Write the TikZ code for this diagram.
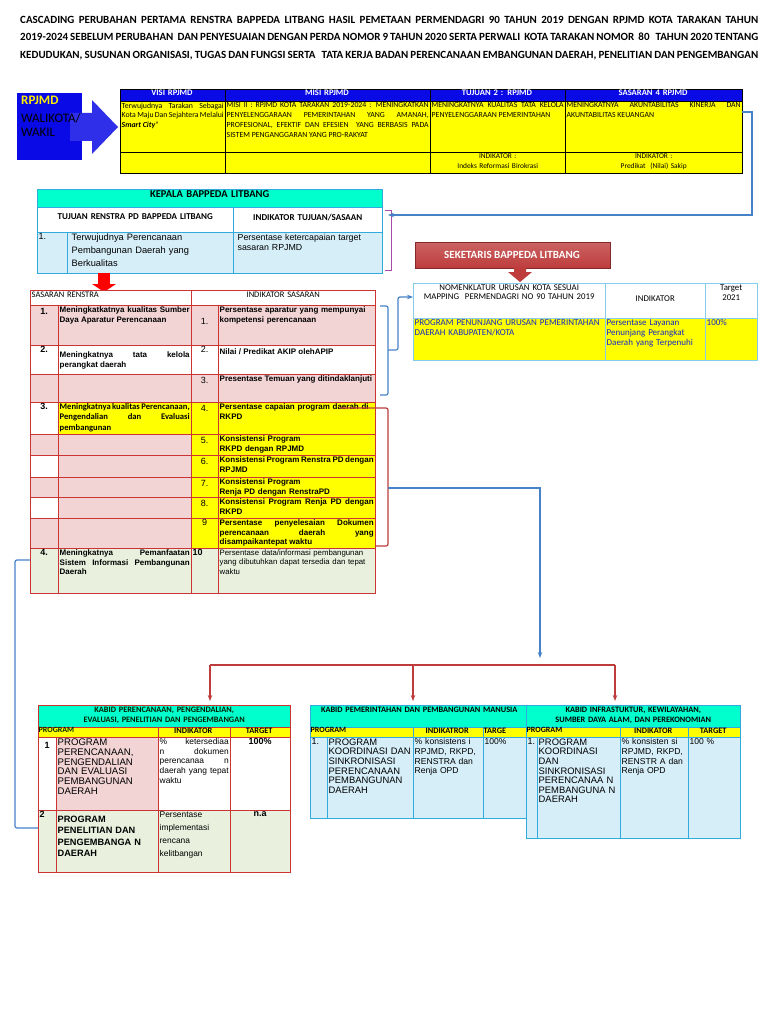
\documentclass[tikz,border=0pt]{standalone}
\usepackage{fontspec}
\setmainfont{Carlito}
\newfontfamily\arial{Liberation Sans}
\usetikzlibrary{arrows.meta,shapes.arrows}
\hyphenpenalty=10000 \exhyphenpenalty=10000 \tolerance=9999 \emergencystretch=20pt
\AtBeginDocument{\hyphenpenalty=10000 \exhyphenpenalty=10000 \tolerance=9999 \emergencystretch=20pt}
\definecolor{hdrblue}{RGB}{10,10,230}
\definecolor{yel}{RGB}{255,255,0}
\definecolor{pink}{RGB}{242,212,212}
\definecolor{grn}{RGB}{233,241,222}
\definecolor{lblue}{RGB}{214,238,248}
\definecolor{cyanh}{RGB}{0,255,204}
\definecolor{redb}{RGB}{204,51,51}
\definecolor{blueb}{RGB}{51,170,221}
\definecolor{conn}{RGB}{70,130,200}
\definecolor{redc}{RGB}{190,60,60}
\definecolor{progblue}{RGB}{20,40,200}
\newcommand\nohy{\hyphenpenalty=10000\exhyphenpenalty=10000\tolerance=9999\emergencystretch=20pt\lefthyphenmin=60\righthyphenmin=60 }
\newcommand\cell[8]{%
 \path[#6] (#2,#3) rectangle (#4,#5);
 \pgfmathsetmacro\cw{#4-#2-3}%
 \node[name=#1, anchor=north west, inner sep=1.5pt, text width=\cw pt, #7] at (#2,#3) {\nohy #8};}
\tikzset{
 every node/.append style={execute at begin node=\nohy},
 tb/.style={fill=#1,draw=black,line width=0.6pt},
 rb/.style={fill=#1,draw=redb,line width=0.6pt},
 bb/.style={fill=#1,draw=blueb,line width=0.7pt},
 hw/.style={font=\bfseries\fontsize{8.6}{9}\selectfont,color=white,align=center,inner sep=0.8pt},
 hb/.style={font=\bfseries\fontsize{9}{10}\selectfont,align=center},
 sm/.style={font=\fontsize{7.8}{9.8}\selectfont,align=justify},
 ar/.style={font=\arial\bfseries\fontsize{8}{9.6}\selectfont,align=justify},
 arn/.style={font=\arial\bfseries\fontsize{9}{10}\selectfont,align=center},
 kb/.style={font=\arial\fontsize{9}{11}\selectfont,align=left},
 kbs/.style={font=\arial\fontsize{8.5}{9.5}\selectfont,align=left},
 bconn/.style={draw=conn,line width=1.2pt,-{Stealth[length=6pt]}},
 rconn/.style={draw=redc,line width=1.2pt,-{Stealth[length=6pt]}},
}
\begin{document}
\begin{tikzpicture}[x=1pt,y=-1pt]
\useasboundingbox[fill=white] (0,0) rectangle (768,1024);
% title
\node[name=title,anchor=north west,text width=738pt,align=justify,inner sep=0pt,
 font=\bfseries\fontsize{11}{17.5}\selectfont] at (20,16)
 {CASCADING PERUBAHAN PERTAMA RENSTRA BAPPEDA LITBANG HASIL PEMETAAN PERMENDAGRI 90 TAHUN 2019 DENGAN RPJMD KOTA TARAKAN TAHUN 2019-2024 SEBELUM PERUBAHAN \ DAN PENYESUAIAN DENGAN PERDA NOMOR 9 TAHUN 2020 SERTA PERWALI \ KOTA TARAKAN NOMOR \ 80 \ \ TAHUN 2020 TENTANG KEDUDUKAN, SUSUNAN ORGANISASI, TUGAS DAN FUNGSI SERTA \ \ TATA KERJA BADAN PERENCANAAN EMBANGUNAN DAERAH, PENELITIAN DAN PENGEMBANGAN};
% RPJMD block arrow
\fill[hdrblue] (17,93) rectangle (82,160);
\fill[hdrblue!85] (70,113) -- (92,113) -- (92,100) -- (118,127) -- (92,154) -- (92,141) -- (70,141) -- cycle;
\node[name=rpjmd,anchor=north west,inner sep=0pt,font=\bfseries\fontsize{13}{15}\selectfont,text=yellow] at (21,96) {RPJMD};
\node[name=wali,anchor=north west,inner sep=0pt,font=\fontsize{13}{14}\selectfont,align=left] at (21,113) {WALIKOTA/\\WAKIL};
% top table
\cell{h1}{120}{89}{225}{101}{tb=hdrblue}{hw}{VISI RPJMD}
\cell{h2}{225}{89}{430}{101}{tb=hdrblue}{hw}{MISI RPJMD}
\cell{h3}{430}{89}{565}{101}{tb=hdrblue}{hw}{TUJUAN 2 : RPJMD}
\cell{h4}{565}{89}{742}{101}{tb=hdrblue}{hw}{SASARAN 4 RPJMD}
\cell{v1}{120}{101}{225}{152}{tb=yel}{sm}{Terwujudnya Tarakan Sebagai Kota Maju Dan Sejahtera Melalui \textbf{\textit{Smart City}}"}
\cell{v2}{225}{101}{430}{152}{tb=yel}{sm}{MISI II : RPJMD KOTA TARAKAN 2019-2024 : MENINGKATKAN PENYELENGGARAAN PEMERINTAHAN YANG AMANAH, PROFESIONAL, EFEKTIF DAN EFESIEN \ YANG BERBASIS PADA SISTEM PENGANGGARAN YANG PRO-RAKYAT}
\cell{v3}{430}{101}{565}{152}{tb=yel}{sm}{MENINGKATNYA KUALITAS TATA KELOLA PENYELENGGARAAN PEMERINTAHAN}
\cell{v4}{565}{101}{742}{152}{tb=yel}{sm}{MENINGKATNYA AKUNTABILITAS KINERJA DAN AKUNTABILITAS KEUANGAN}
\cell{i1}{120}{152}{225}{173}{tb=yel}{sm}{}
\cell{i2}{225}{152}{430}{173}{tb=yel}{sm}{}
\cell{i3}{430}{152}{565}{173}{tb=yel}{sm,align=center,font=\fontsize{7.4}{10}\selectfont}{INDIKATOR :\\ Indeks Reformasi Birokrasi}
\cell{i4}{565}{152}{742}{173}{tb=yel}{sm,align=center,font=\fontsize{7.4}{10}\selectfont}{INDIKATOR :\\ Predikat \ (Nilai) Sakip}
% KEPALA table
\cell{kh}{37}{189}{382}{207}{bb=cyanh}{hb,font=\bfseries\fontsize{10.5}{12}\selectfont}{KEPALA BAPPEDA LITBANG}
\cell{k1}{37}{207}{233}{232}{bb=white}{hb,yshift=-5pt}{TUJUAN RENSTRA PD BAPPEDA LITBANG}
\cell{k2}{233}{207}{382}{232}{bb=white}{hb,yshift=-5pt}{INDIKATOR TUJUAN/SASAAN}
\cell{k3}{37}{232}{67}{273}{bb=lblue}{kb}{1.}
\cell{k4}{67}{232}{233}{273}{bb=lblue}{kb,font=\arial\fontsize{9.3}{13}\selectfont,xshift=3pt}{Terwujudnya Perencanaan Pembangunan Daerah yang Berkualitas}
\cell{k5}{233}{232}{382}{273}{bb=lblue}{kb,font=\arial\fontsize{8.8}{10}\selectfont,xshift=3pt}{Persentase ketercapaian target sasaran RPJMD}
\draw[violet!70,line width=0.8pt] (385,210) -- (391,210) -- (391,270) -- (385,270);
\draw[bconn] (742,112) -- (752,112) -- (752,215) -- (388,215);
% SEKETARIS
\shade[top color=redc!80,bottom color=redc,draw=redc!70!black] (415,242) rectangle (610,268);
\node[name=sek,font=\bfseries\fontsize{11}{12}\selectfont,text=white] at (512,255) {SEKETARIS BAPPEDA LITBANG};
\fill[redc] (514,268) -- (526,268) -- (526,272) -- (532,272) -- (520,282) -- (508,272) -- (514,272) -- cycle;
% red arrow kepala -> sasaran
\fill[red] (98,273) rectangle (110,284);
\fill[red] (92,284) -- (116,284) -- (104,292) -- cycle;
% SASARAN table
\cell{sh1}{30}{290}{191}{305}{rb=white}{font=\fontsize{8.5}{9}\selectfont,align=left}{SASARAN RENSTRA}
\cell{sh2}{191}{290}{375}{305}{rb=white}{font=\fontsize{8.5}{9}\selectfont,align=center}{INDIKATOR SASARAN}
\def\rowA{305}\def\rowB{345}\def\rowC{374}\def\rowD{402}\def\rowE{434}\def\rowF{455}\def\rowG{477}\def\rowH{497}\def\rowI{518}\def\rowJ{548}\def\rowK{593}
\cell{n1}{30}{\rowA}{58}{\rowB}{rb=pink}{arn,yshift=-2pt}{1.}
\cell{n2}{30}{\rowB}{58}{\rowC}{rb=white}{arn}{2.}
\cell{n3}{30}{\rowC}{58}{\rowD}{rb=pink}{arn}{}
\cell{n4}{30}{\rowD}{58}{\rowE}{rb=white}{arn}{3.}
\cell{n5}{30}{\rowE}{58}{\rowF}{rb=pink}{arn}{}
\cell{n6}{30}{\rowF}{58}{\rowG}{rb=white}{arn}{}
\cell{n7}{30}{\rowG}{58}{\rowH}{rb=pink}{arn}{}
\cell{n8}{30}{\rowH}{58}{\rowI}{rb=white}{arn}{}
\cell{n9}{30}{\rowI}{58}{\rowJ}{rb=pink}{arn}{}
\cell{n10}{30}{\rowJ}{58}{\rowK}{rb=grn}{arn}{4.}
\cell{s1}{58}{\rowA}{191}{\rowB}{rb=pink}{ar}{Meningkatkatnya kualitas Sumber Daya Aparatur Perencanaan}
\cell{s2}{58}{\rowB}{191}{\rowC}{rb=white}{ar,yshift=-5pt}{Meningkatnya tata kelola perangkat daerah}
\cell{s3}{58}{\rowC}{191}{\rowD}{rb=pink}{ar}{}
\cell{s4}{58}{\rowD}{191}{\rowE}{rb=yel}{font=\bfseries\fontsize{8.6}{10.2}\selectfont,align=justify}{Meningkatnya kualitas Perencanaan, Pengendalian dan Evaluasi pembangunan}
\cell{s5}{58}{\rowE}{191}{\rowJ}{rb=pink}{ar}{}
\draw[redb,line width=0.6pt] (58,\rowF) -- (191,\rowF) (58,\rowG) -- (191,\rowG) (58,\rowH) -- (191,\rowH) (58,\rowI) -- (191,\rowI);
\cell{s10}{58}{\rowJ}{191}{\rowK}{rb=grn}{ar}{Meningkatnya Pemanfaatan Sistem Informasi Pembangunan Daerah}
\cell{m1}{191}{\rowA}{218}{\rowB}{rb=pink}{kb,align=center,yshift=-12pt}{1.}
\cell{m2}{191}{\rowB}{218}{\rowC}{rb=white}{kb,align=center}{2.}
\cell{m3}{191}{\rowC}{218}{\rowD}{rb=pink}{kb,align=center,yshift=-2pt}{3.}
\cell{m4}{191}{\rowD}{218}{\rowE}{rb=yel}{kb,align=center,yshift=-2pt}{4.}
\cell{m5}{191}{\rowE}{218}{\rowF}{rb=yel}{kb,align=center,yshift=-2pt}{5.}
\cell{m6}{191}{\rowF}{218}{\rowG}{rb=yel}{kb,align=center,yshift=-2pt}{6.}
\cell{m7}{191}{\rowG}{218}{\rowH}{rb=yel}{kb,align=center,yshift=-2pt}{7.}
\cell{m8}{191}{\rowH}{218}{\rowI}{rb=yel}{kb,align=center,yshift=-2pt}{8.}
\cell{m9}{191}{\rowI}{218}{\rowJ}{rb=yel}{kb,align=center}{9}
\cell{m10}{191}{\rowJ}{218}{\rowK}{rb=grn}{arn,align=left}{10}
\cell{t1}{218}{\rowA}{375}{\rowB}{rb=pink}{ar,align=left}{Persentase aparatur yang mempunyai kompetensi perencanaan}
\cell{t2}{218}{\rowB}{375}{\rowC}{rb=white}{ar,yshift=-2pt}{Nilai / Predikat AKIP olehAPIP}
\cell{t3}{218}{\rowC}{375}{\rowD}{rb=pink}{ar}{Presentase Temuan yang ditindaklanjuti}
\cell{t4}{218}{\rowD}{375}{\rowE}{rb=yel}{ar,align=left}{Persentase capaian program daerah di RKPD}
\cell{t5}{218}{\rowE}{375}{\rowF}{rb=yel}{ar,align=left}{Konsistensi Program\\RKPD dengan RPJMD}
\cell{t6}{218}{\rowF}{375}{\rowG}{rb=yel}{ar}{Konsistensi Program Renstra PD dengan RPJMD}
\cell{t7}{218}{\rowG}{375}{\rowH}{rb=yel}{ar,align=left}{Konsistensi Program\\Renja PD dengan RenstraPD}
\cell{t8}{218}{\rowH}{375}{\rowI}{rb=yel}{ar}{Konsistensi Program Renja PD dengan RKPD}
\cell{t9}{218}{\rowI}{375}{\rowJ}{rb=yel}{ar}{Persentase penyelesaian Dokumen perencanaan daerah yang disampaikantepat waktu}
\cell{t10}{218}{\rowJ}{375}{\rowK}{rb=grn}{ar,align=left,font=\arial\fontsize{7.8}{9.6}\selectfont}{Persentase data/informasi pembangunan yang dibutuhkan dapat tersedia dan tepat waktu}
% brackets
\draw[conn,line width=1.2pt,rounded corners=2pt] (380,306) -- (388,306) -- (388,395) -- (380,395);
\draw[redc,line width=1.2pt,rounded corners=2pt] (340,408) -- (388,408) -- (388,546) -- (375,546);
% NOMENKLATUR table
\cell{nh1}{413}{283}{605}{318}{draw=blueb!60,fill=white}{font=\fontsize{8.8}{9.5}\selectfont,align=center}{NOMENKLATUR URUSAN KOTA SESUAI MAPPING \ PERMENDAGRI NO 90 TAHUN 2019}
\cell{nh2}{605}{283}{705}{318}{draw=blueb!60,fill=white}{font=\fontsize{8.8}{9.5}\selectfont,align=center,yshift=-11pt}{INDIKATOR}
\cell{nh3}{705}{283}{757}{318}{draw=blueb!60,fill=white}{font=\fontsize{8.8}{10}\selectfont,align=center}{Target\\2021}
\cell{nr1}{413}{318}{605}{360}{draw=blueb!60,fill=yel}{font=\fontsize{9}{10}\selectfont,align=left,text=progblue}{PROGRAM PENUNJANG URUSAN PEMERINTAHAN DAERAH KABUPATEN/KOTA}
\cell{nr2}{605}{318}{705}{360}{draw=blueb!60,fill=yel}{font=\fontsize{9}{10}\selectfont,align=left,text=progblue}{Persentase Layanan Penunjang Perangkat Daerah yang Terpenuhi}
\cell{nr3}{705}{318}{757}{360}{draw=blueb!60,fill=yel}{font=\fontsize{9}{10}\selectfont,align=left,text=progblue}{100\%}
% connectors
\draw[bconn,rounded corners=2pt] (388,350) -- (398,350) -- (398,297) -- (nh1.west |- 0,297);
\draw[bconn] (388,488) -- (540,488) -- (540,658);
\draw[redc,line width=1.2pt] (210,665) -- (615,665);
\draw[rconn] (210,665) -- (210,701);
\draw[rconn] (413,665) -- (413,701);
\draw[rconn] (615,665) -- (615,701);
\draw[bconn,rounded corners=2pt] (30,560) -- (15,560) -- (15,828) -- (48,828);
% KABID left
\cell{ah}{38}{705}{290}{727}{rb=cyanh}{hb,text=black!70!green!40!black,font=\bfseries\fontsize{8.3}{10}\selectfont}{KABID PERENCANAAN, PENGENDALIAN, EVALUASI, PENELITIAN DAN PENGEMBANGAN}
\cell{ay1}{38}{727}{158}{737}{rb=yel}{font=\bfseries\fontsize{8}{7}\selectfont,align=left,text=black!60!green!40!black,inner sep=0.5pt}{PROGRAM}
\cell{ay2}{158}{727}{230}{737}{rb=yel}{font=\bfseries\fontsize{8.3}{7}\selectfont,align=center,inner sep=0.5pt}{INDIKATOR}
\cell{ay3}{230}{727}{290}{737}{rb=yel}{font=\bfseries\fontsize{8.3}{7}\selectfont,align=center,inner sep=0.5pt}{TARGET}
\cell{a1n}{38}{737}{56}{810}{rb=white}{arn,yshift=-4pt}{1}
\cell{a1p}{56}{737}{158}{810}{rb=pink}{kb,font=\arial\fontsize{9.6}{9.8}\selectfont}{PROGRAM PERENCANAAN, PENGENDALIAN DAN EVALUASI PEMBANGUNAN DAERAH}
\cell{a1i}{158}{737}{230}{810}{rb=white}{kbs,align=justify,font=\arial\fontsize{8.4}{9.6}\selectfont}{\% ketersediaa n dokumen perencanaa n daerah yang tepat waktu}
\cell{a1t}{230}{737}{290}{810}{rb=white}{arn}{100\%}
\cell{a2n}{38}{810}{56}{872}{rb=grn}{arn,align=left}{2}
\cell{a2p}{56}{810}{158}{872}{rb=grn}{arn,align=left,font=\arial\bfseries\fontsize{9.2}{11.5}\selectfont,yshift=-4pt}{PROGRAM PENELITIAN DAN PENGEMBANGA N DAERAH}
\cell{a2i}{158}{810}{230}{872}{rb=grn}{kbs,font=\arial\fontsize{8.4}{13}\selectfont}{Persentase implementasi rencana kelitbangan}
\cell{a2t}{230}{810}{290}{872}{rb=grn}{arn}{n.a}
% KABID middle
\cell{bh}{310}{705}{528}{727}{bb=cyanh}{hb,font=\bfseries\fontsize{8.3}{10}\selectfont}{KABID PEMERINTAHAN DAN PEMBANGUNAN MANUSIA}
\cell{by1}{310}{727}{413}{737}{bb=yel}{font=\bfseries\fontsize{8}{7}\selectfont,align=left,inner sep=0.5pt}{PROGRAM}
\cell{by2}{413}{727}{483}{737}{bb=yel}{font=\bfseries\fontsize{8.3}{7}\selectfont,align=center,inner sep=0.5pt}{INDIKATROR}
\cell{by3}{483}{727}{528}{737}{bb=yel}{font=\bfseries\fontsize{8.3}{7}\selectfont,align=left,inner sep=0.5pt}{TARGE}
\cell{b1n}{310}{737}{327}{818}{bb=lblue}{kb}{1.}
\cell{b1p}{327}{737}{413}{818}{bb=lblue}{kb,font=\arial\fontsize{9.4}{9.6}\selectfont}{PROGRAM KOORDINASI DAN SINKRONISASI PERENCANAAN PEMBANGUNAN DAERAH}
\cell{b1i}{413}{737}{483}{818}{bb=lblue}{kbs,font=\arial\fontsize{8.6}{9.6}\selectfont}{\% konsistens i RPJMD, RKPD, RENSTRA dan Renja OPD}
\cell{b1t}{483}{737}{528}{818}{bb=lblue}{kbs}{100\%}
% KABID right
\cell{ch}{526}{705}{740}{727}{bb=cyanh}{hb,font=\bfseries\fontsize{8.3}{10}\selectfont}{KABID INFRASTUKTUR, KEWILAYAHAN, SUMBER DAYA ALAM, DAN PEREKONOMIAN}
\cell{cy1}{526}{727}{620}{737}{bb=yel}{font=\bfseries\fontsize{8}{7}\selectfont,align=left,inner sep=0.5pt}{PROGRAM}
\cell{cy2}{620}{727}{688}{737}{bb=yel}{font=\bfseries\fontsize{8.3}{7}\selectfont,align=center,inner sep=0.5pt}{INDIKATOR}
\cell{cy3}{688}{727}{740}{737}{bb=yel}{font=\bfseries\fontsize{8.3}{7}\selectfont,align=center,inner sep=0.5pt}{TARGET}
\cell{c1n}{526}{737}{537}{838}{bb=lblue}{kb}{1.}
\cell{c1p}{537}{737}{620}{838}{bb=lblue}{kb,font=\arial\fontsize{9.4}{9.6}\selectfont}{PROGRAM KOORDINASI DAN SINKRONISASI PERENCANAA N PEMBANGUNA N DAERAH}
\cell{c1i}{620}{737}{688}{838}{bb=lblue}{kbs,font=\arial\fontsize{8.6}{9.6}\selectfont}{\% konsisten si RPJMD, RKPD, RENSTR A dan Renja OPD}
\cell{c1t}{688}{737}{740}{838}{bb=lblue}{kbs}{100 \%}
\end{tikzpicture}
\end{document}
